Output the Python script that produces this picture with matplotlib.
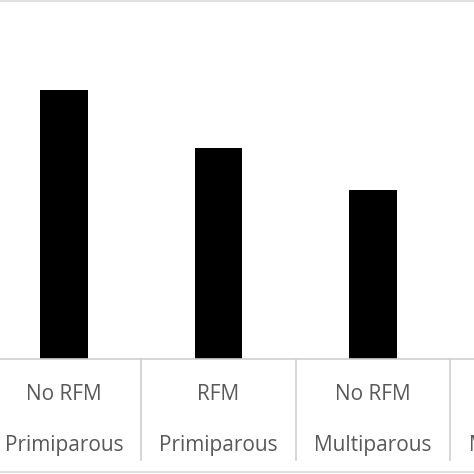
import matplotlib
matplotlib.use("Agg")
import matplotlib.pyplot as plt
from matplotlib.transforms import blended_transform_factory

groups = ["No RFM", "RFM", "No RFM", "RFM"]
parity = ["Primiparous", "Primiparous", "Multiparous", "Multiparous"]
values = [269, 211, 169, 150]

W = H = 474
fig = plt.figure(figsize=(4.74, 4.74), dpi=100)
axis_px = 359
ax = fig.add_axes([0, (H - axis_px) / H, 1, axis_px / H])
step = 154.5
x = list(range(len(values)))
ax.bar(x, values, width=48 / step, color="black")
ax.set_xlim(-64 / step, (W - 64) / step)
ax.set_ylim(0, axis_px)
for s in ax.spines.values():
    s.set_visible(False)
ax.set_xticks([]); ax.set_yticks([])
ax.axhline(0, color="#d0d0d0", lw=1.2, clip_on=False)

tr = blended_transform_factory(ax.transData, fig.transFigure)
for i in x:
    ax.text(i, 1 - 395 / H, groups[i], transform=tr, ha="center", va="center",
            fontsize=15, color="#595959", family="Open Sans")
    ax.text(i, 1 - 445 / H, parity[i], transform=tr, ha="center", va="center",
            fontsize=15, color="#595959", family="Open Sans")
for b in [-0.5 + k for k in range(len(values) + 1)]:
    ax.plot([b, b], [1 - 359 / H, 1 - 460 / H], transform=tr, color="#d0d0d0",
            lw=1.2, clip_on=False)
fig.add_artist(plt.Line2D([0, 1], [1 - 472 / H] * 2, color="#e0e0e0", lw=1.5))
fig.add_artist(plt.Line2D([0, 1], [1 - 1 / H] * 2, color="#e0e0e0", lw=1.5))
fig.savefig("out.png", dpi=100)
